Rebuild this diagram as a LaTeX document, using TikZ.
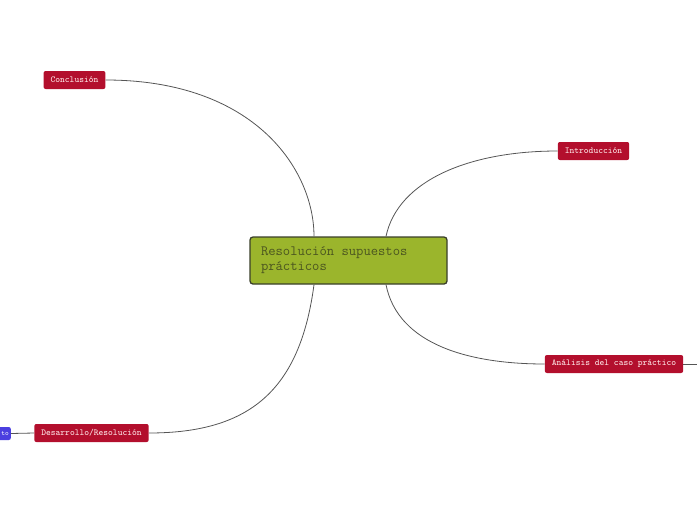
\documentclass[tikz,border=0pt]{standalone}
\usepackage{fontspec}
\definecolor{topicred}{HTML}{B30F2D}
\definecolor{rootgreen}{HTML}{9BB52C}
\definecolor{rootedge}{HTML}{3A3F2A}
\definecolor{roottext}{HTML}{4B5520}
\definecolor{subblue}{HTML}{4B3FE0}
\definecolor{linkgray}{HTML}{555555}
\newcommand{\tsp}{\hspace{0.525em}}
\begin{document}
\begin{tikzpicture}[x=1pt, y=-1pt,
    root/.style={draw=rootedge, line width=1.3pt, fill=rootgreen, rounded corners=3pt,
        minimum width=197pt, minimum height=47pt, text width=175pt, align=left,
        text=roottext, font=\ttfamily\fontsize{14.2}{15}\selectfont},
    topic/.style={fill=topicred, rounded corners=2pt, minimum height=18pt, inner xsep=7pt,
        text=red!8, font=\ttfamily\fontsize{9.1}{10}\selectfont},
    subtopic/.style={fill=subblue, rounded corners=2pt, minimum height=13pt, inner xsep=2pt,
        text=white, font=\ttfamily\fontsize{7}{8}\selectfont},
    link/.style={linkgray, line width=0.8pt}]
    \useasboundingbox (0,0) rectangle (697,520);

    % central idea
    \node[root] (root) at (348.5,260.5) {\raisebox{-1.5pt}{Resolución\tsp supuestos}\\\raisebox{-1.5pt}{prácticos}};

    % main topics
    \node[topic] (conclusion) at (74.5,80) {Conclusión};
    \node[topic] (intro) at (593.5,151) {Introducción};
    \node[topic] (analisis) at (614,364) {Análisis\tsp del\tsp caso\tsp práctico};
    \node[topic] (desarrollo) at (91.5,433) {Desarrollo/Resolución};

    % subtopic cut by the left edge
    \node[subtopic, minimum width=30pt, text width=26pt, align=right, anchor=east] (sub) at (11,433.5) {to};
    \coordinate (tail) at (697,364);

    % connectors
    \draw[link] (root.north -| 314,0) .. controls (314,170) and (255,80) .. (conclusion.east);
    \draw[link] (root.north -| 386,0) .. controls (398,180) and (470,151) .. (intro.west);
    \draw[link] (root.south -| 386,0) .. controls (398,345) and (470,364) .. (analisis.west);
    \draw[link] (root.south -| 314,0) .. controls (300,390) and (250,433) .. (desarrollo.east);
    \draw[link] (analisis.east) -- (tail);
    \draw[link] (sub.east) -- (desarrollo.west);
\end{tikzpicture}
\end{document}
